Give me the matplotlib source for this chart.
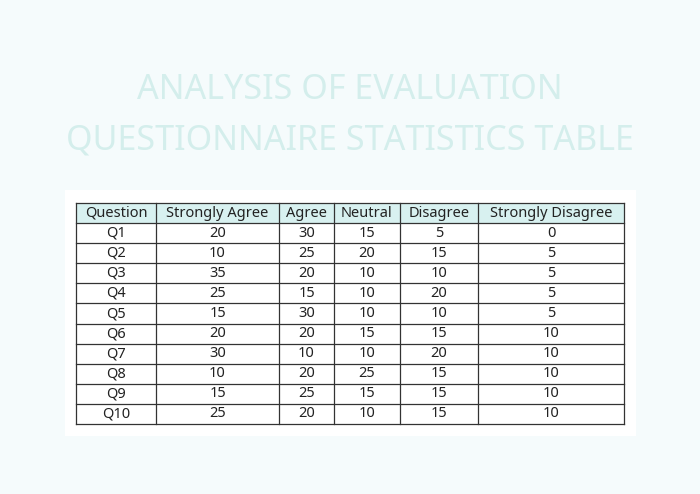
import matplotlib.pyplot as plt
from matplotlib.patches import Rectangle

questions = ["Q1", "Q2", "Q3", "Q4", "Q5", "Q6", "Q7", "Q8", "Q9", "Q10"]
columns = ["Question", "Strongly Agree", "Agree", "Neutral", "Disagree", "Strongly Disagree"]
strongly_agree = [20, 10, 35, 25, 15, 20, 30, 10, 15, 25]
agree = [30, 25, 20, 15, 30, 20, 10, 20, 25, 20]
neutral = [15, 20, 10, 10, 10, 15, 10, 25, 15, 10]
disagree = [5, 15, 10, 20, 10, 15, 20, 15, 15, 15]
strongly_disagree = [0, 5, 5, 5, 5, 10, 10, 10, 10, 10]

plt.rcParams['font.family'] = ['Noto Sans', 'DejaVu Sans']

W, H = 700, 494
fig = plt.figure(figsize=(7, 4.94), dpi=100)
fig.patch.set_facecolor('#f5fbfc')
ax = fig.add_axes([0, 0, 1, 1])
ax.set_xlim(0, W)
ax.set_ylim(H, 0)
ax.axis('off')

ax.text(350, 90, "ANALYSIS OF EVALUATION", ha='center', va='center',
        fontsize=24.5, color='#d4eeec', fontweight='light')
ax.text(350, 140, "QUESTIONNAIRE STATISTICS TABLE", ha='center', va='center',
        fontsize=24.5, color='#d4eeec', fontweight='light')

ax.add_patch(Rectangle((65, 190), 571, 246, facecolor='white', edgecolor='none', zorder=1))

rows = [columns] + [[q, a, b, c, d, e] for q, a, b, c, d, e in
                    zip(questions, strongly_agree, agree, neutral, disagree, strongly_disagree)]
col_x = [76, 156, 279, 334, 400, 478, 624]
top, bottom = 203, 424
rh = (bottom - top) / len(rows)

ax.add_patch(Rectangle((col_x[0], top), col_x[-1] - col_x[0], rh,
                       facecolor='#d8f1f0', edgecolor='none', zorder=2))
for i in range(len(rows) + 1):
    ax.plot([col_x[0], col_x[-1]], [top + i * rh] * 2, color='#333333', lw=0.9, zorder=3)
for x in col_x:
    ax.plot([x, x], [top, bottom], color='#333333', lw=0.9, zorder=3)
for r, row in enumerate(rows):
    for c, val in enumerate(row):
        ax.text((col_x[c] + col_x[c + 1]) / 2, top + (r + 0.5) * rh, str(val),
                ha='center', va='center', fontsize=10.5, color='#222222',
                fontweight='bold' if r == 0 else 'normal', zorder=4)

fig.savefig("out.png", dpi=100, facecolor=fig.get_facecolor())
